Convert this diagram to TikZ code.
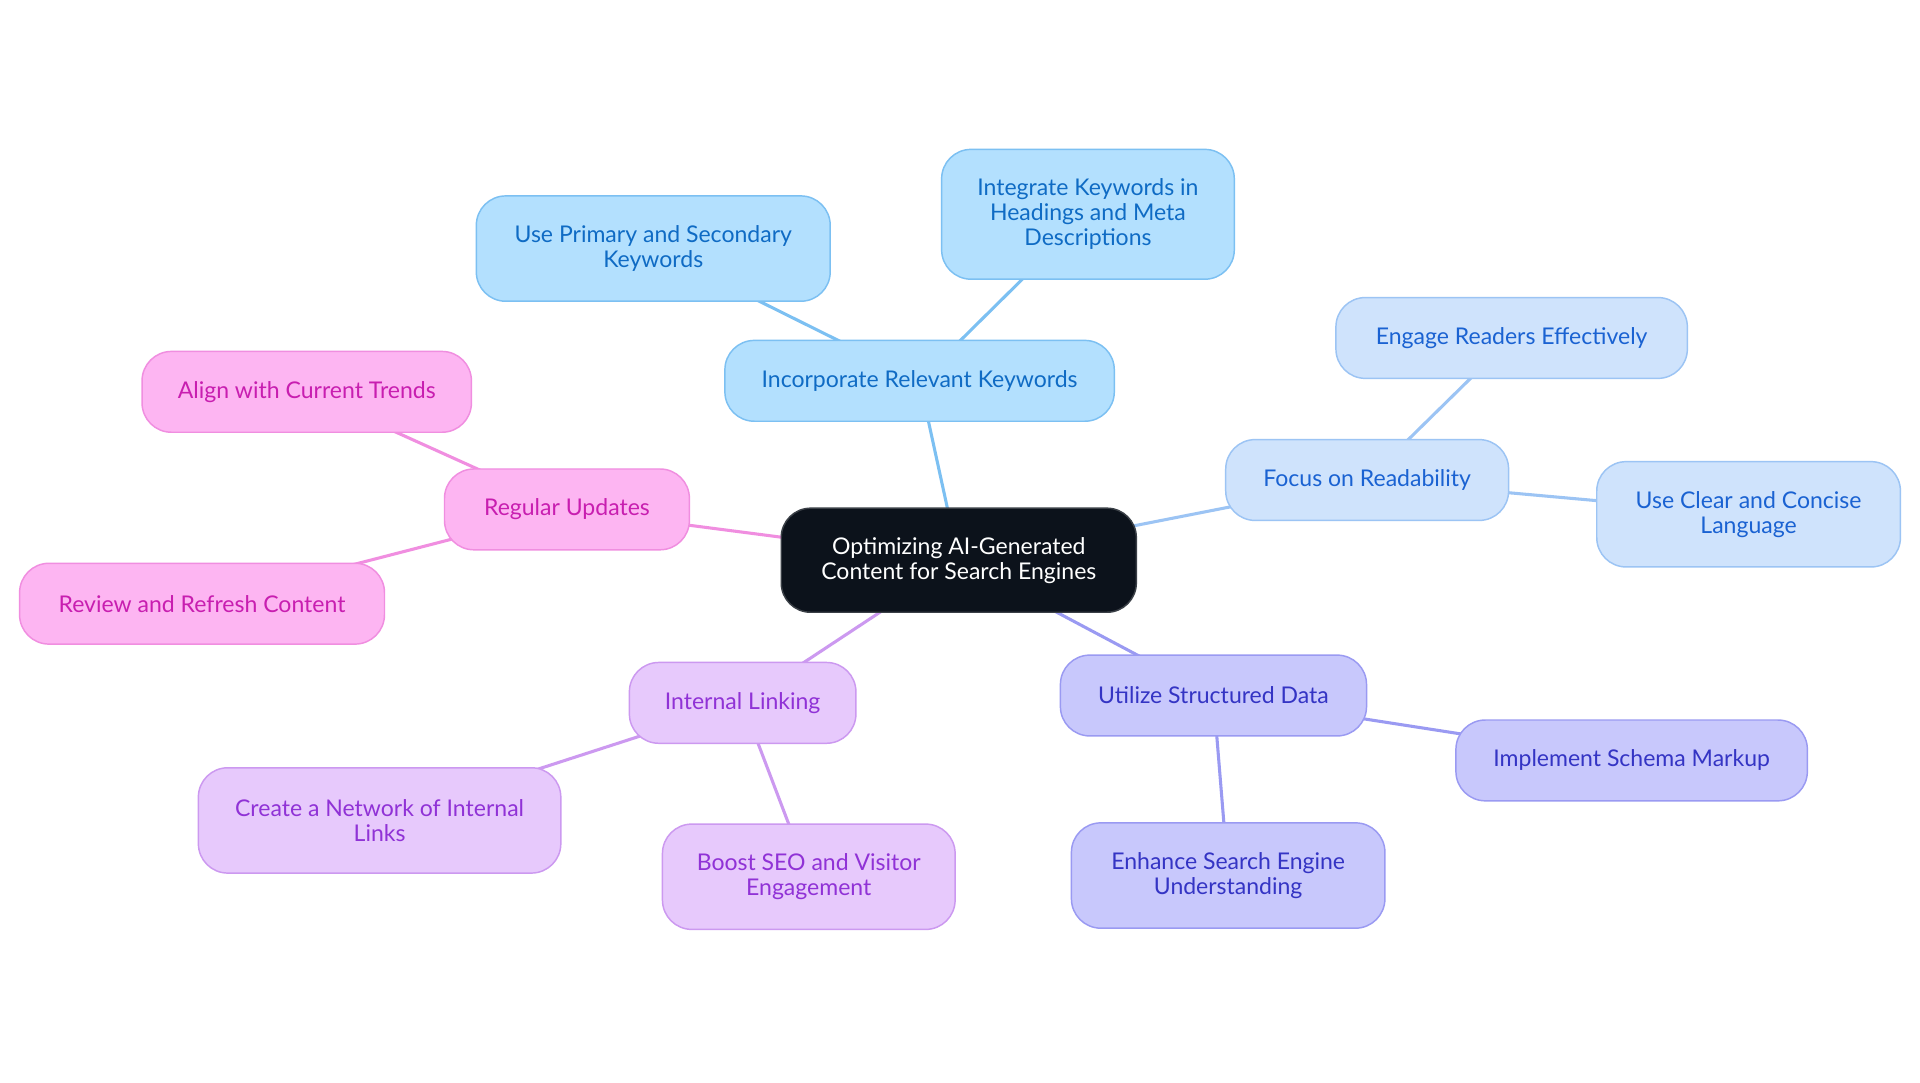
\documentclass[tikz,border=0pt]{standalone}
\usepackage{fontspec}
\setmainfont{Lato}
\usetikzlibrary{backgrounds}
\definecolor{cfill}{HTML}{0C121B}
\definecolor{cbord}{HTML}{3A3F46}
\definecolor{bfill}{HTML}{B3E0FE}
\definecolor{bbord}{HTML}{7CC0F2}
\definecolor{btext}{HTML}{0F6BC4}
\definecolor{rfill}{HTML}{CFE3FC}
\definecolor{rbord}{HTML}{9CC4F4}
\definecolor{rtext}{HTML}{1A62D2}
\definecolor{sfill}{HTML}{C8C8FC}
\definecolor{sbord}{HTML}{9A9AF2}
\definecolor{stext}{HTML}{3434C4}
\definecolor{ifill}{HTML}{E7C9FC}
\definecolor{ibord}{HTML}{CC99F0}
\definecolor{itext}{HTML}{9032D6}
\definecolor{pfill}{HTML}{FDB5F2}
\definecolor{pbord}{HTML}{F08EE0}
\definecolor{ptext}{HTML}{C81EB0}
\tikzset{
  box/.style={rectangle, rounded corners=24, inner sep=0pt, align=center, line width=1.2pt,
    font=\fontsize{18.8}{20.5}\selectfont},
  cbox/.style={box, fill=cfill, draw=cbord, text=white},
  bbox/.style={box, fill=bfill, draw=bbord, text=btext},
  rbox/.style={box, fill=rfill, draw=rbord, text=rtext},
  sbox/.style={box, fill=sfill, draw=sbord, text=stext},
  ibox/.style={box, fill=ifill, draw=ibord, text=itext},
  pbox/.style={box, fill=pfill, draw=pbord, text=ptext},
  link/.style={line width=2.5pt},
  sz/.style 2 args={minimum width=#1, minimum height=#2},
}
\begin{document}
\begin{tikzpicture}[x=1pt,y=-1pt]
\useasboundingbox (0,0) rectangle (1568,884.4);
\node[cbox, sz={290}{85}] (c) at (783,457.5) {Optimizing AI-Generated\\Content for Search Engines};
\node[bbox, sz={318}{66}] (inc) at (751,311) {Incorporate Relevant Keywords};
\node[bbox, sz={289}{86}] (prim) at (533.5,203) {Use Primary and Secondary\\Keywords};
\node[bbox, sz={239}{106}] (integ) at (888.5,175) {Integrate Keywords in\\Headings and Meta\\Descriptions};
\node[rbox, sz={231}{66}] (focus) at (1116.5,392) {Focus on Readability};
\node[rbox, sz={287}{66}] (engage) at (1234.5,276) {Engage Readers Effectively};
\node[rbox, sz={248}{86}] (clear) at (1428,420) {Use Clear and Concise\\Language};
\node[sbox, sz={250}{66}] (util) at (991,568) {Utilize Structured Data};
\node[sbox, sz={287}{66}] (schema) at (1332.5,621) {Implement Schema Markup};
\node[sbox, sz={256}{86}] (enh) at (1003,715) {Enhance Search Engine\\Understanding};
\node[ibox, sz={185}{66}] (intl) at (606.5,574) {Internal Linking};
\node[ibox, sz={296}{86}] (create) at (310,670) {Create a Network of Internal\\Links};
\node[ibox, sz={239}{86}] (boost) at (660.5,716) {Boost SEO and Visitor\\Engagement};
\node[pbox, sz={200}{66}] (reg) at (463,416) {Regular Updates};
\node[pbox, sz={269}{66}] (align) at (250.5,320) {Align with Current Trends};
\node[pbox, sz={298}{66}] (rev) at (165,493) {Review and Refresh Content};
\begin{scope}[on background layer]
\fill[white] (0,0) rectangle (1568,884.4);
\draw[link, bbord] (c.center) -- (inc.center);
\draw[link, bbord] (inc.center) -- (prim.center);
\draw[link, bbord] (inc.center) -- (integ.center);
\draw[link, rbord] (c.center) -- (focus.center);
\draw[link, rbord] (focus.center) -- (engage.center);
\draw[link, rbord] (focus.center) -- (clear.center);
\draw[link, sbord] (c.center) -- (util.center);
\draw[link, sbord] (util.center) -- (schema.center);
\draw[link, sbord] (util.center) -- (enh.center);
\draw[link, ibord] (c.center) -- (intl.center);
\draw[link, ibord] (intl.center) -- (create.center);
\draw[link, ibord] (intl.center) -- (boost.center);
\draw[link, pbord] (c.center) -- (reg.center);
\draw[link, pbord] (reg.center) -- (align.center);
\draw[link, pbord] (reg.center) -- (rev.center);
\end{scope}
\end{tikzpicture}
\end{document}
